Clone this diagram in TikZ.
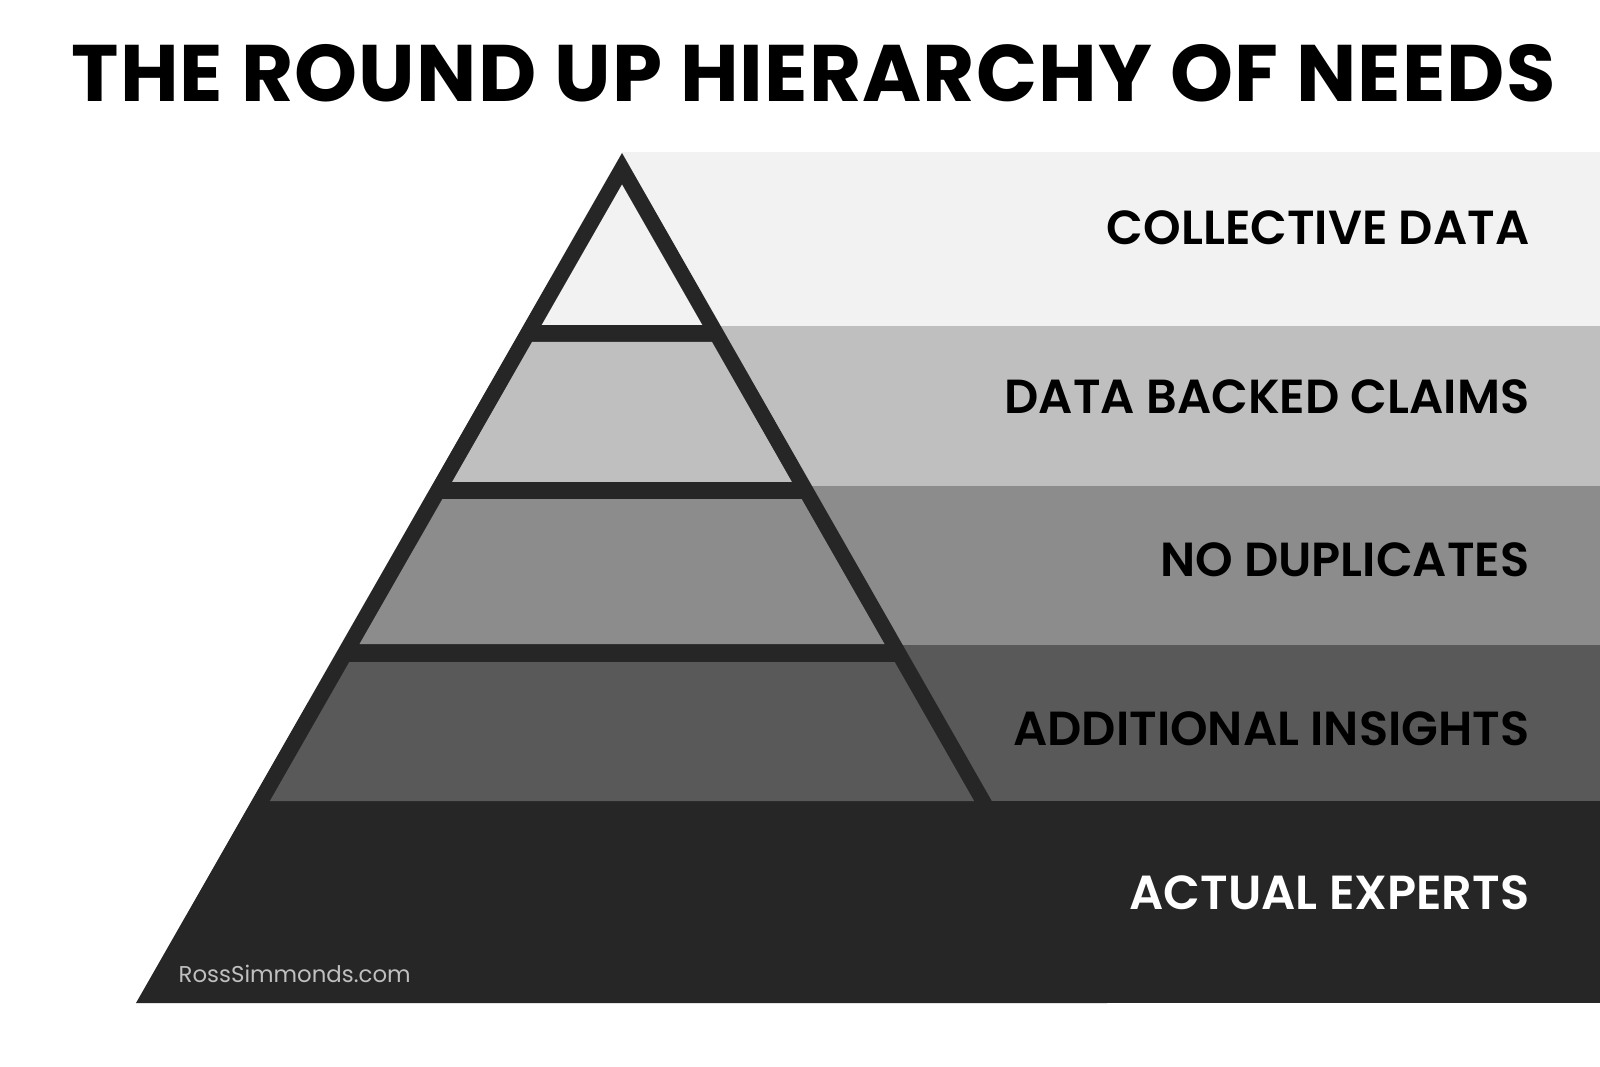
\documentclass[tikz,border=0pt]{standalone}
\usepackage{xcolor}
\usepackage{fontspec}
\setmainfont{Poppins}
\newfontfamily\semibold{Poppins SemiBold}
\usepackage{tikz}
\usetikzlibrary{positioning}

\definecolor{tierA}{HTML}{F2F2F2}
\definecolor{tierB}{HTML}{BFBFBF}
\definecolor{tierC}{HTML}{8C8C8C}
\definecolor{tierD}{HTML}{595959}
\definecolor{tierE}{HTML}{262626}

\begin{document}
\begin{tikzpicture}[
    x=0.01cm, y=-0.01cm,
    title/.style={anchor=base west, inner sep=0pt, font=\fontsize{22.8pt}{26pt}\selectfont\bfseries\addfontfeature{LetterSpace=1.4}},
    tierlabel/.style={anchor=base east, inner sep=0pt, font=\fontsize{13.6pt}{16pt}\semibold},
    site/.style={anchor=base west, inner sep=0pt, text=tierB, font=\fontsize{6.5pt}{8pt}\selectfont}
]
\useasboundingbox[fill=white] (0,0) rectangle (1600,1067);

% Title
\node[title] (title) at (71,102) {THE ROUND UP HIERARCHY OF NEEDS};

% Bands behind the pyramid
\fill[tierA] (622,152) rectangle (1600,326);
\fill[tierB] (622,326) rectangle (1600,486);
\fill[tierC] (622,486) rectangle (1600,645);
\fill[tierD] (622,645) rectangle (1600,801);
\fill[tierE] (622,801) rectangle (1600,1003);

% Pyramid outline
\fill[tierE] (622,153) -- (1107,1003) -- (136,1003) -- cycle;

% Pyramid tiers
\fill[tierA] (622,184.5) -- (702.3,325) -- (541.7,325) -- cycle;
\fill[tierB] (532,342) -- (712,342) -- (791.9,482) -- (452.1,482) -- cycle;
\fill[tierC] (442.4,499) -- (801.6,499) -- (884.5,644) -- (359.5,644) -- cycle;
\fill[tierD] (349.3,662) -- (894.7,662) -- (974.1,801) -- (269.9,801) -- cycle;

% Labels
\node[tierlabel] (collective) at (1530,245) {COLLECTIVE DATA};
\node[tierlabel] (claims) at (1530,413) {DATA BACKED CLAIMS};
\node[tierlabel] (duplicates) at (1530,577) {NO DUPLICATES};
\node[tierlabel] (insights) at (1530,745) {ADDITIONAL INSIGHTS};
\node[tierlabel, text=white] (experts) at (1530,909) {ACTUAL EXPERTS};

\node[site] (website) at (178,982) {RossSimmonds.com};

\end{tikzpicture}
\end{document}
